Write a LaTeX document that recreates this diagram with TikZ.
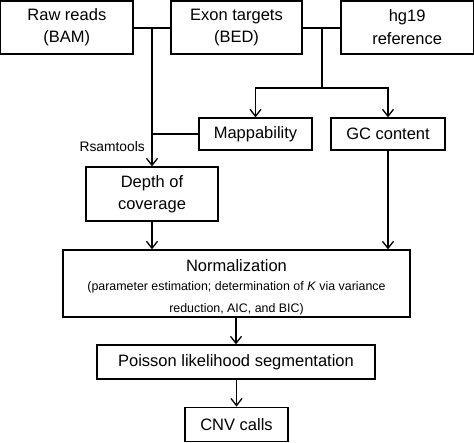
\documentclass[tikz,border=0pt]{standalone}
\usepackage{fontspec}
\setmainfont{Liberation Sans}
\usepackage{tikz}
\usetikzlibrary{arrows.meta}
\usetikzlibrary{calc}

\newcommand{\smalltxt}{\fontsize{12.4}{18}\selectfont}

\tikzset{
	box/.style={draw, line width=1.3pt, align=center, inner sep=0pt,
		font=\fontsize{16.5}{22.5}\selectfont},
	arr/.style={-{Straight Barb[length=7pt,width=11pt,line width=1.3pt]}},
	conn/.style={line width=1.3pt}
}

\begin{document}
\begin{tikzpicture}[x=1pt,y=-1pt]
	\useasboundingbox (0,0) rectangle (474,442);
	\node[box, minimum width=132.3pt, minimum height=53pt] (raw) at (66.85,27.35) {Raw reads\\(BAM)};
	\node[box, minimum width=131pt, minimum height=53pt] (exon) at (236.5,27.35) {Exon targets\\(BED)};
	\node[box, minimum width=132.3pt, minimum height=53pt] (ref) at (407.15,27.35) {hg19\\reference};
	\node[box, minimum width=113pt, minimum height=32pt] (map) at (255.5,134) {Mappability};
	\node[box, minimum width=114pt, minimum height=32pt] (gc) at (388,134) {GC content};
	\node[box, minimum width=132pt, minimum height=54pt] (depth) at (152,194) {Depth of\\coverage};
	\node[box, minimum width=347pt, minimum height=67pt] (norm) at (236.5,283.5) {\rule{0pt}{20pt}Normalization\\[-4pt]
		\smalltxt (parameter estimation; determination of \textit{K} via variance\\
		\smalltxt reduction, AIC, and BIC)};
	\node[box, minimum width=278pt, minimum height=34pt] (pois) at (236,362) {Poisson likelihood segmentation};
	\node[box, minimum width=103pt, minimum height=34pt] (cnv) at (236.5,424.2) {CNV calls};
	\node[anchor=east, inner sep=0pt, font=\fontsize{13.8}{16}\selectfont] (rsam) at (145,147) {Rsamtools};

	\coordinate (j1) at (152,28);
	\coordinate (j2) at (322,28);
	\coordinate (j3) at (322,88);

	\draw[conn] (raw.east |- j1) -- (exon.west |- j1);
	\draw[conn] (exon.east |- j2) -- (ref.west |- j2);
	\draw[conn, arr] (j1) -- (depth.north);
	\draw[conn] (map.west) -- (map.west -| j1);
	\draw[conn] (j2) -- (j3);
	\draw[conn, arr] (j3) -| (map.north);
	\draw[conn, arr] (j3) -| (gc.north);
	\draw[conn, arr] (depth.south) -- (depth.south |- norm.north);
	\draw[conn, arr] (gc.south) -- (gc.south |- norm.north);
	\draw[conn, arr] (norm.south -| pois.north) -- (pois.north);
	\draw[conn, arr] (pois.south -| cnv.north) -- (cnv.north);
\end{tikzpicture}
\end{document}
